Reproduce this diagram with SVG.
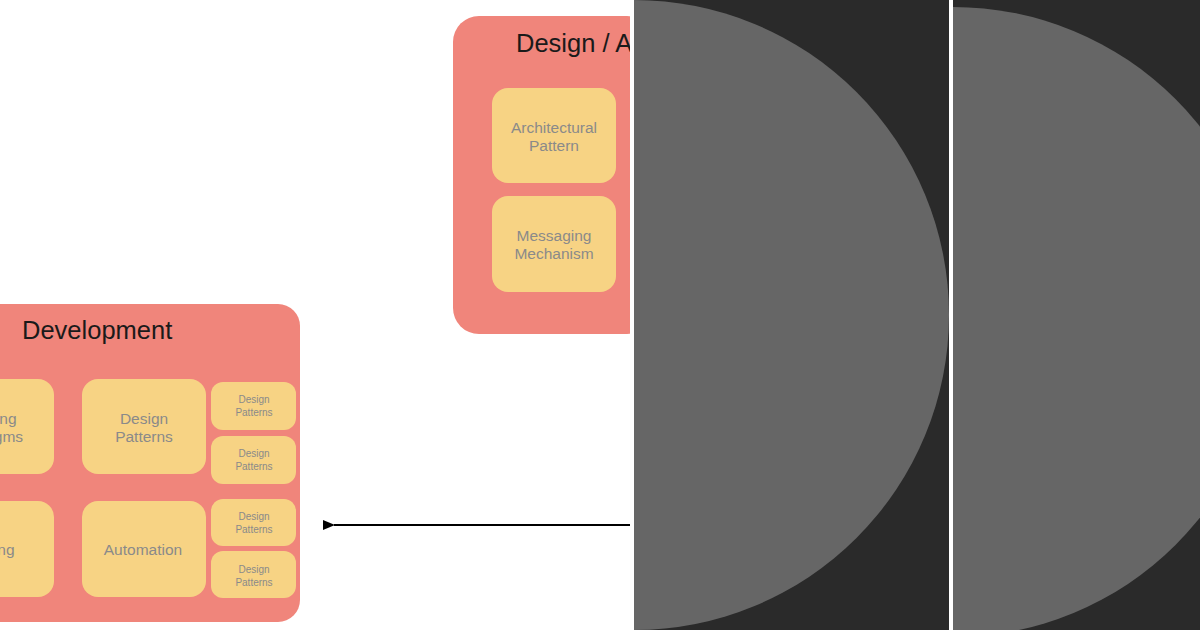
<svg xmlns="http://www.w3.org/2000/svg" width="1200" height="630" viewBox="0 0 1200 630">
<defs>
<style>
.grp{fill:#f0857b}
.box{fill:#f7d384}
.t{font-family:"Liberation Sans",Arial,sans-serif;fill:#8a8a8a;text-anchor:middle}
.h{font-family:"Liberation Sans",Arial,sans-serif;fill:#1a1a1a;font-size:25.5px}
</style>
<marker id="ah" markerWidth="12" markerHeight="10" refX="1" refY="5" orient="auto" markerUnits="userSpaceOnUse"><path d="M12,0 L0,5 L12,10 z" fill="#000"/></marker>
<clipPath id="c1"><rect x="634" y="0" width="315" height="630"/></clipPath>
<clipPath id="c2"><rect x="953" y="0" width="247" height="630"/></clipPath>
</defs>
<rect width="1200" height="630" fill="#fff"/>
<g id="design-arch">
<rect class="grp" x="453" y="16" width="200" height="318" rx="26"/>
<text class="h" x="516" y="52">Design / A</text>
<g id="arch-pattern"><rect class="box" x="492" y="88" width="124" height="95" rx="16"/><text class="t" font-size="15.5"><tspan x="554" y="133">Architectural</tspan><tspan x="554" y="151">Pattern</tspan></text></g>
<g id="messaging"><rect class="box" x="492" y="196" width="124" height="96" rx="16"/><text class="t" font-size="15.5"><tspan x="554" y="241">Messaging</tspan><tspan x="554" y="259">Mechanism</tspan></text></g>
</g>
<g id="development">
<rect class="grp" x="-30" y="304" width="330" height="318" rx="22"/>
<text class="h" x="22" y="339">Development</text>
<g id="paradigms"><rect class="box" x="-70" y="379" width="124" height="95" rx="16"/><text class="t" font-size="15.5"><tspan x="-30" y="424">Programming</tspan><tspan x="-14" y="442">Paradigms</tspan></text></g>
<g id="design-patterns"><rect class="box" x="82" y="379" width="124" height="95" rx="16"/><text class="t" font-size="15.5"><tspan x="144" y="424">Design</tspan><tspan x="144" y="442">Patterns</tspan></text></g>
<g id="testing"><rect class="box" x="-70" y="501" width="124" height="96" rx="16"/><text class="t" font-size="15.5"><tspan x="-10" y="555">Testing</tspan></text></g>
<g id="automation"><rect class="box" x="82" y="501" width="124" height="96" rx="16"/><text class="t" font-size="15.5"><tspan x="143" y="555">Automation</tspan></text></g>
<g id="dp1"><rect class="box" x="211" y="382" width="85" height="48" rx="12"/><text class="t" font-size="10"><tspan x="254" y="403">Design</tspan><tspan x="254" y="416">Patterns</tspan></text></g>
<g id="dp2"><rect class="box" x="211" y="436" width="85" height="48" rx="12"/><text class="t" font-size="10"><tspan x="254" y="457">Design</tspan><tspan x="254" y="470">Patterns</tspan></text></g>
<g id="dp3"><rect class="box" x="211" y="499" width="85" height="47" rx="12"/><text class="t" font-size="10"><tspan x="254" y="520">Design</tspan><tspan x="254" y="533">Patterns</tspan></text></g>
<g id="dp4"><rect class="box" x="211" y="551" width="85" height="47" rx="12"/><text class="t" font-size="10"><tspan x="254" y="573">Design</tspan><tspan x="254" y="586">Patterns</tspan></text></g>
</g>
<g id="connectors">
<line x1="630" y1="525" x2="334" y2="525" stroke="#000" stroke-width="2" marker-end="url(#ah)"/>
</g>
<rect x="630" y="0" width="4" height="630" fill="#fff"/>
<rect x="634" y="0" width="566" height="630" fill="#2a2a2a"/>
<rect x="949" y="0" width="4" height="630" fill="#fff"/>
<g clip-path="url(#c1)"><circle cx="634" cy="315" r="315" fill="#666"/></g>
<g clip-path="url(#c2)"><circle cx="953" cy="322" r="315" fill="#666"/></g>
</svg>
